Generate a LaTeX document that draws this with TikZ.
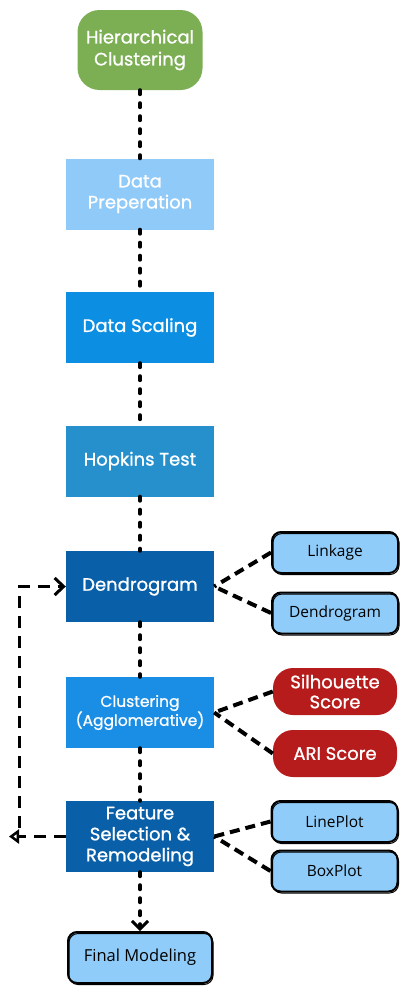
\documentclass[tikz,border=0pt]{standalone}
\usepackage{fontspec}
\setmainfont{Poppins}[FakeBold=1]
\newfontfamily\handfont{Open Sans}
\usetikzlibrary{arrows.meta}
\definecolor{hcgreen}{RGB}{124,174,84}
\definecolor{prepblue}{RGB}{144,202,249}
\definecolor{scaleblue}{RGB}{12,142,226}
\definecolor{hopblue}{RGB}{38,144,204}
\definecolor{dendblue}{RGB}{10,96,168}
\definecolor{clustblue}{RGB}{26,142,229}
\definecolor{sideblue}{RGB}{144,204,249}
\definecolor{scorered}{RGB}{183,28,28}

\begin{document}
\begin{tikzpicture}[x=1pt,y=-1pt,
  mainbox/.style={fill=#1, text=white, minimum width=148pt, minimum height=71pt,
    align=center, inner sep=2pt, font=\fontsize{18}{21}\selectfont},
  hcbox/.style={fill=hcgreen, text=white, rounded corners=22pt, minimum width=125pt,
    minimum height=80pt, align=center, font=\fontsize{18}{22}\selectfont},
  sidebox/.style={fill=sideblue, draw=black, line width=2pt, rounded corners=9pt,
    minimum width=126pt, minimum height=41pt, font=\handfont\fontsize{15.5}{18}\selectfont,
    postaction={draw=black, line width=1pt, rounded corners=9pt,
      transform canvas={shift={(1pt,-1.5pt)}}}},
  scorebox/.style={fill=scorered, text=white, rounded corners=20pt, minimum width=124pt,
    minimum height=47pt, align=center, font=\fontsize{18}{20}\selectfont},
  dotline/.style={line width=4pt, line cap=round, dash pattern=on 4pt off 9pt},
  dashline/.style={line width=4pt, dash pattern=on 10pt off 6pt},
  loopline/.style={line width=3pt, dash pattern=on 12pt off 8pt},
]
  \useasboundingbox (0,0) rectangle (408,996);
  % define the main steps
  \node[hcbox] (hier) at (140,50) {Hierarchical\\Clustering};
  \node[mainbox=prepblue] (prep) at (140,194) {Data\\Preperation};
  \node[mainbox=scaleblue] (scale) at (140,327.5) {Data Scaling};
  \node[mainbox=hopblue] (hop) at (140,461) {Hopkins Test};
  \node[mainbox=dendblue] (dend) at (140,586.5) {Dendrogram};
  \node[mainbox=clustblue, font=\fontsize{15.5}{19}\selectfont] (clust) at (140,712.5) {Clustering\\(Agglomerative)};
  \node[mainbox=dendblue] (feat) at (140,836.5) {Feature\\Selection \&\\Remodeling};
  \node[sidebox, minimum width=144pt, minimum height=51pt, font=\handfont\fontsize{16.5}{19}\selectfont] (final) at (140,957.5) {Final Modeling};
  % define the side boxes
  \node[sidebox] (link) at (335,552.5) {Linkage};
  \node[sidebox] (dgram) at (335,613) {Dendrogram};
  \node[scorebox] (sil) at (335,691.5) {Silhouette\\Score};
  \node[scorebox] (ari) at (335,753.5) {ARI Score};
  \node[sidebox] (lplot) at (334.5,821.5) {LinePlot};
  \node[sidebox] (bplot) at (334.5,871) {BoxPlot};
  \coordinate (loopL) at (9,836.5);
  \coordinate (loopB) at (19,828);
  % draw the connectors
  \foreach \a/\b in {hier/prep,prep/scale,scale/hop,hop/dend,dend/clust,clust/feat}
    \draw[dotline] (\a) -- (\b);
  \draw[dotline, -{Straight Barb[length=8pt,width=16pt,line width=3pt]}] (feat) -- (final);
  \foreach \s in {link,dgram} \draw[dashline] (\s.west) -- (dend.east);
  \foreach \s in {sil,ari} \draw[dashline] (\s.west) -- (clust.east);
  \foreach \s in {lplot,bplot} \draw[dashline] (\s.west) -- (feat.east);
  % draw the loop back
  \draw[loopline, -{Triangle[open,length=10pt,width=14pt,line width=3pt]}] (feat.west) -- (loopL);
  \draw[loopline, -{Straight Barb[length=9pt,width=17pt,line width=3pt]}] (loopB) |- (dend.west);
\end{tikzpicture}
\end{document}
